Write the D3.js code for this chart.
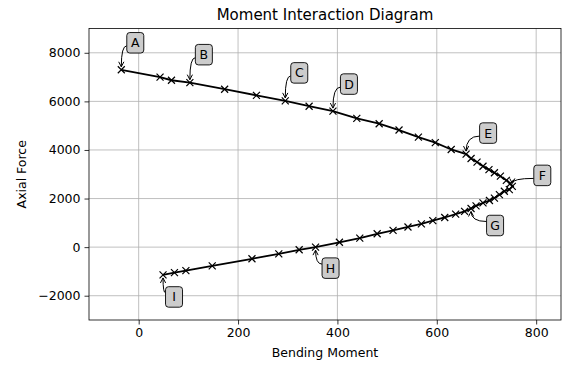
<!DOCTYPE html>
<html lang="en">
<head>
<meta charset="UTF-8">
<title>Moment Interaction Diagram</title>
<script src="https://d3js.org/d3.v7.min.js"></script>
<style>
  body { margin: 0; background: #fff; }
  text { font-family: "DejaVu Sans", sans-serif; fill: #000; }
</style>
</head>
<body>
<div id="chart"></div>
<script>
// data
const moment = [-35, 43, 66, 103, 173, 237, 295, 343, 391, 439, 484, 524, 563, 597, 629, 659,
  669, 681, 693, 705, 716, 728, 740, 748, 752,
  746, 736, 726, 716, 706, 693, 679, 669, 656, 638, 616, 592, 569, 542, 512, 480, 445, 404,
  356, 323, 282, 228, 148, 95, 72, 49];
const axial = [7300, 7000, 6870, 6770, 6500, 6250, 6020, 5800, 5600, 5300, 5080, 4820, 4530, 4300, 4020, 3830,
  3650, 3500, 3330, 3190, 3060, 2920, 2750, 2620, 2500,
  2370, 2300, 2160, 2020, 1920, 1820, 1700, 1590, 1470, 1360, 1220, 1090, 960, 830, 690, 550, 370, 200,
  0, -110, -275, -480, -770, -970, -1050, -1145];
const xTicks = [0, 200, 400, 600, 800];
const yTicks = [-2000, 0, 2000, 4000, 6000, 8000];
const labels = ["A", "B", "C", "D", "E", "F", "G", "H", "I"];
const labelPoint = [0, 3, 6, 8, 15, 24, 32, 43, 50];
// text offset from the point, in pixels
const labelOffset = [[14, -27], [14, -28], [14, -28], [16, -27], [22, -21], [30, -11], [24, 17], [15, 21], [11, 22]];

const width = 587, height = 373;
const margin = { top: 28.5, right: 26, bottom: 53, left: 89 };
const iw = width - margin.left - margin.right;
const ih = height - margin.top - margin.bottom;

const svg = d3.select("#chart").append("svg")
  .attr("width", width).attr("height", height);

const x = d3.scaleLinear().domain([-100, 850]).range([0, iw]);
const y = d3.scaleLinear().domain([-3000, 9000]).range([ih, 0]);

const g = svg.append("g").attr("transform", `translate(${margin.left},${margin.top})`);

// grid
g.append("g").selectAll("line").data(xTicks).join("line")
  .attr("x1", d => x(d)).attr("x2", d => x(d)).attr("y1", 0).attr("y2", ih)
  .attr("stroke", "#b0b0b0").attr("stroke-width", 0.8);
g.append("g").selectAll("line").data(yTicks).join("line")
  .attr("y1", d => y(d)).attr("y2", d => y(d)).attr("x1", 0).attr("x2", iw)
  .attr("stroke", "#b0b0b0").attr("stroke-width", 0.8);

// axes
const xAxis = g.append("g").attr("transform", `translate(0,${ih})`)
  .call(d3.axisBottom(x).tickValues(xTicks).tickSize(4.5).tickPadding(4).tickFormat(d3.format("d")));
const yAxis = g.append("g")
  .call(d3.axisLeft(y).tickValues(yTicks).tickSize(4.5).tickPadding(4)
    .tickFormat(d => d < 0 ? "\u2212" + Math.abs(d) : d));
[xAxis, yAxis].forEach(a => {
  a.select(".domain").remove();
  a.selectAll(".tick line").attr("stroke", "#000").attr("stroke-width", 0.8);
  a.selectAll(".tick text").style("font-size", "12.5px").style("font-family", "DejaVu Sans");
});

// frame
g.append("rect").attr("width", iw).attr("height", ih)
  .attr("fill", "none").attr("stroke", "#000").attr("stroke-width", 0.8);

const pts = moment.map((m, i) => [x(m), y(axial[i])]);

// curve
g.append("path")
  .attr("d", d3.line()(pts))
  .attr("fill", "none").attr("stroke", "#000").attr("stroke-width", 1.8);

// x markers
g.append("g").selectAll("path").data(pts).join("path")
  .attr("d", d => `M${d[0]-3.5},${d[1]-3.5}L${d[0]+3.5},${d[1]+3.5}M${d[0]-3.5},${d[1]+3.5}L${d[0]+3.5},${d[1]-3.5}`)
  .attr("stroke", "#000").attr("stroke-width", 1.2).attr("fill", "none");

// annotations
const ann = g.append("g");
labels.forEach((lab, i) => {
  const p = pts[labelPoint[i]];
  const cx = p[0] + labelOffset[i][0], cy = p[1] + labelOffset[i][1];
  const bw = 17, bh = 20.5;
  const sx = cx - bw / 2, sy = cy + (labelOffset[i][1] > 0 ? -4 : 3);
  // end point pulled back from the marker
  const ctrl = [p[0], sy];
  const dx = p[0] - ctrl[0], dy = p[1] - ctrl[1];
  const len = Math.hypot(dx, dy) || 1;
  const ex = p[0] - dx / len * 3, ey = p[1] - dy / len * 3;
  ann.append("path")
    .attr("d", `M${sx},${sy}Q${ctrl[0]},${ctrl[1]} ${ex},${ey}`)
    .attr("fill", "none").attr("stroke", "#000").attr("stroke-width", 1);
  const ux = dx / len, uy = dy / len;
  const ah = 5, aw = 2.6;
  ann.append("path")
    .attr("d", `M${ex - ux*ah - uy*aw},${ey - uy*ah + ux*aw}L${ex},${ey}L${ex - ux*ah + uy*aw},${ey - uy*ah - ux*aw}`)
    .attr("fill", "none").attr("stroke", "#000").attr("stroke-width", 1);
  ann.append("rect")
    .attr("x", cx - bw / 2).attr("y", cy - bh / 2).attr("width", bw).attr("height", bh)
    .attr("rx", 3).attr("fill", "#cccccc").attr("stroke", "#000").attr("stroke-width", 0.9);
  ann.append("text").attr("x", cx).attr("y", cy)
    .attr("text-anchor", "middle").attr("dominant-baseline", "central")
    .style("font-size", "12.5px").text(lab);
});

// title and axis labels
svg.append("text").attr("x", margin.left + iw / 2).attr("y", 20)
  .attr("text-anchor", "middle").style("font-size", "15px").text("Moment Interaction Diagram");
svg.append("text").attr("x", margin.left + iw / 2).attr("y", 357)
  .attr("text-anchor", "middle").style("font-size", "12.5px").text("Bending Moment");
svg.append("text").attr("transform", `translate(26,${margin.top + ih / 2}) rotate(-90)`)
  .attr("text-anchor", "middle").style("font-size", "12.5px").text("Axial Force");
</script>
</body>
</html>
